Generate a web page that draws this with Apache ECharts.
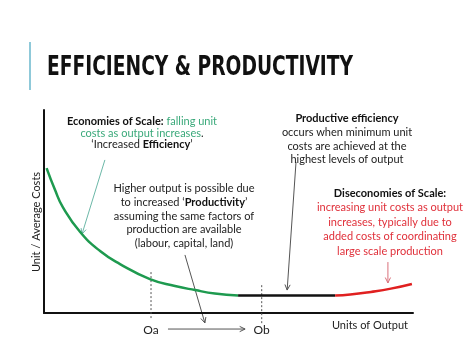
<!DOCTYPE html>
<html><head><meta charset="utf-8">
<script src="https://cdn.jsdelivr.net/npm/echarts@6/dist/echarts.min.js"></script>
<style>html,body{margin:0;padding:0;background:#fff}#c{width:474px;height:355px}</style>
</head><body><div id="c"></div>
<script>
// Data (x: units of output 0-100, y: unit/average cost 0-100)
const greenCurve = [[0.7,71.4],[3.0,60.6],[5.1,52.2],[9.8,39.9],[15.2,30.5],[20.6,24.1],[28.7,16.7],[35.5,13.3],[40.9,11.3],[46.3,9.6],[52.6,8.6]];
const flatSegment = [[52.6,8.6],[78.9,8.6]];
const redCurve = [[78.9,8.6],[83,9.1],[88.6,10.4],[94,12.0],[99.7,14.3]];
const markerValues = [29, 59];
const markerLabels = ['Oa', 'Ob'];
const markerTops = [20.2, 14.3];
const markerBottoms = [-2.5, -5];

const FONT = 'Lato, "Noto Sans", sans-serif';
const chart = echarts.init(document.getElementById('c'), null, {renderer: 'canvas'});

const dotted = markerValues.map((v, i) => ({
  type: 'line', data: [[v, markerBottoms[i]], [v, markerTops[i]]], symbol: 'none', clip: false,
  lineStyle: {color: '#555', width: 1, type: [2, 2]}, silent: true, z: 1
}));

chart.setOption({
  animation: false,
  backgroundColor: '#fff',
  grid: {left: 44, right: 61, top: 110, bottom: 42},
  xAxis: {
    type: 'value', min: 0, max: 100,
    axisLine: {show: true, lineStyle: {color: '#111', width: 2}},
    axisTick: {show: false}, splitLine: {show: false},
    axisLabel: {
      customValues: markerValues, margin: 11,
      formatter: v => markerLabels[markerValues.indexOf(v)] || '',
      color: '#222', fontFamily: FONT, fontSize: 12
    }
  },
  yAxis: {
    type: 'value', min: 0, max: 100,
    axisLine: {show: true, lineStyle: {color: '#111', width: 2}},
    axisTick: {show: false}, splitLine: {show: false}, axisLabel: {show: false}
  },
  series: [
    {type: 'line', data: greenCurve, smooth: true, symbol: 'none', lineStyle: {color: '#1e9a4f', width: 2.5}, z: 3},
    {type: 'line', data: flatSegment, symbol: 'none', lineStyle: {color: '#111', width: 2.5}, z: 3},
    {type: 'line', data: redCurve, smooth: true, symbol: 'none', lineStyle: {color: '#e02020', width: 2.5}, z: 3},
    ...dotted
  ]
});

// annotation arrows in data coordinates
const arrows = [
  {from: [16.5, 75.4], to: [10.3, 38.9], color: '#6cb8a8'},
  {from: [38.2, 28.6], to: [43.6, -4.9], color: '#555'},
  {from: [68.3, 74.4], to: [65.9, 11.3], color: '#555'},
  {from: [93.2, 25.1], to: [93.2, 14.8], color: '#d9707a'},
  {from: [33.6, -7.9], to: [54.5, -7.9], color: '#555'}
];
const g = [];
arrows.forEach(a => {
  const p1 = chart.convertToPixel({gridIndex: 0}, a.from);
  const p2 = chart.convertToPixel({gridIndex: 0}, a.to);
  const ang = Math.atan2(p2[1] - p1[1], p2[0] - p1[0]);
  const L = 6, W = 0.45;
  g.push({type: 'line', shape: {x1: p1[0], y1: p1[1], x2: p2[0], y2: p2[1]}, style: {stroke: a.color, lineWidth: 1}, silent: true});
  g.push({type: 'polyline', shape: {points: [
    [p2[0] - L * Math.cos(ang - W), p2[1] - L * Math.sin(ang - W)],
    [p2[0], p2[1]],
    [p2[0] - L * Math.cos(ang + W), p2[1] - L * Math.sin(ang + W)]
  ]}, style: {stroke: a.color, lineWidth: 1, fill: null}, silent: true});
});

const rich = (size, lh) => ({
  b: {fontFamily: FONT, fontSize: size, fontWeight: 'bold', fill: '#111', lineHeight: lh},
  n: {fontFamily: FONT, fontSize: size, fill: '#222', lineHeight: lh},
  g: {fontFamily: FONT, fontSize: size, fill: '#3aa97a', lineHeight: lh},
  r: {fontFamily: FONT, fontSize: size, fill: '#e0303a', lineHeight: lh}
});

// title: condensed look via horizontal scaling
const TITLE = 'EFFICIENCY & PRODUCTIVITY';
const TITLE_FONT = 'bold 27px "DejaVu Sans Condensed", "Liberation Sans Narrow", sans-serif';
const mctx = document.createElement('canvas').getContext('2d');
mctx.font = TITLE_FONT;
const titleScale = 306 / mctx.measureText(TITLE).width;

g.push(
  {type: 'line', shape: {x1: 30, y1: 42, x2: 30, y2: 90}, style: {stroke: '#6ab7cc', lineWidth: 1.5}, silent: true},
  {type: 'text', x: 47, y: 68, scaleX: titleScale, style: {text: TITLE, font: TITLE_FONT, fill: '#111', verticalAlign: 'middle', align: 'left'}},
  {type: 'text', x: 142, y: 116, style: {align: 'center', verticalAlign: 'top', rich: rich(11, 11.5),
    text: '{b|Economies of Scale:}{g| falling unit}\n{g|costs as output increases}{n|.}\n{n|\u2018Increased }{b|Efficiency}{n|\u2019}'}},
  {type: 'text', x: 347, y: 112, style: {align: 'center', verticalAlign: 'top', rich: rich(11, 13.7),
    text: '{b|Productive efficiency}\n{n|occurs when minimum unit}\n{n|costs are achieved at the}\n{n|highest levels of output}'}},
  {type: 'text', x: 184, y: 182, style: {align: 'center', verticalAlign: 'top', rich: rich(11, 13.6),
    text: '{n|Higher output is possible due}\n{n|to increased \u2018}{b|Productivity}{n|\u2019}\n{n|assuming the same factors of}\n{n|production are available}\n{n|(labour, capital, land)}'}},
  {type: 'text', x: 390, y: 186, style: {align: 'center', verticalAlign: 'top', rich: rich(11, 14.5),
    text: '{b|Diseconomies of Scale:}\n{r|increasing unit costs as output}\n{r|increases, typically due to}\n{r|added costs of coordinating}\n{r|large scale production}'}},
  {type: 'text', x: 408, y: 325, style: {text: 'Units of Output', font: '11px ' + FONT, fill: '#222', align: 'right', verticalAlign: 'middle'}},
  {type: 'text', x: 36, y: 222, rotation: Math.PI / 2, style: {text: 'Unit / Average Costs', font: '11px ' + FONT, fill: '#222', align: 'center', verticalAlign: 'middle'}}
);

chart.setOption({graphic: g});
</script>
</body></html>
